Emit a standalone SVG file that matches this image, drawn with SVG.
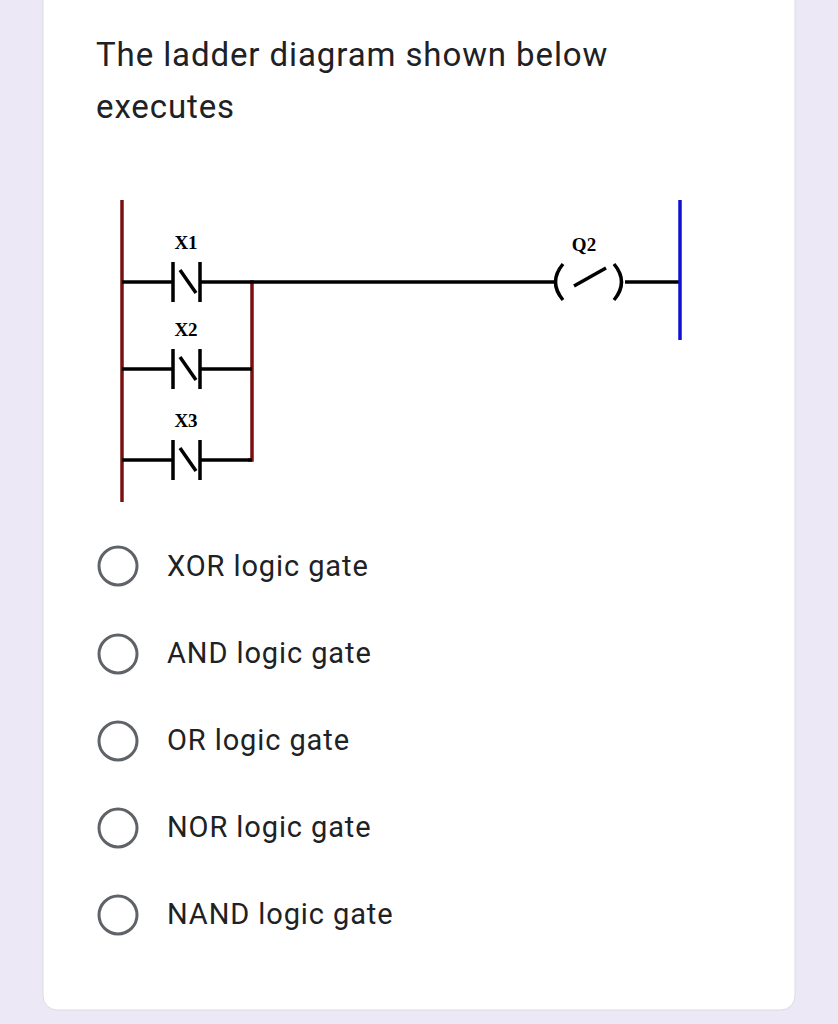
<svg xmlns="http://www.w3.org/2000/svg" width="838" height="1024" viewBox="0 0 838 1024">
<style>
.q{font-family:Roboto,"Liberation Sans",sans-serif;fill:#202124;font-size:33px;letter-spacing:0.9px}
.opt{font-family:Roboto,"Liberation Sans",sans-serif;font-size:29px;letter-spacing:0.9px;fill:#202124}
.lbl{font-family:"Liberation Serif",serif;font-weight:bold;font-size:19px;fill:#000}
.w{stroke:#000;stroke-width:3.5;fill:none}
.r{stroke:#7a1010;stroke-width:3.5;fill:none}
.rad{fill:none;stroke:#5f6368;stroke-width:3}
</style>
<rect width="838" height="1024" fill="#ece8f5"/>
<rect x="43" y="-20" width="752" height="1030" rx="14" fill="#fff" stroke="#dadce0"/>
<text class="q" x="96" y="66">The ladder diagram shown below</text>
<text class="q" x="96" y="118">executes</text>
<g id="connectors">
<line class="r" x1="122" y1="200" x2="122" y2="502"/>
<polyline class="r" points="250,282 252,282 252,460 248,460"/>
<line class="w" x1="122" y1="282" x2="173" y2="282"/>
<line class="w" x1="200" y1="282" x2="554" y2="282"/>
<line class="w" x1="122" y1="369" x2="173" y2="369"/>
<line class="w" x1="200" y1="369" x2="252" y2="369"/>
<line class="w" x1="122" y1="460" x2="173" y2="460"/>
<line class="w" x1="200" y1="460" x2="252" y2="460"/>
<line class="w" x1="625" y1="282" x2="680" y2="282"/>
<line x1="680" y1="200" x2="680" y2="340" stroke="#1010d0" stroke-width="3.5"/>
</g>
<g id="x1"><text class="lbl" x="186" y="249" text-anchor="middle">X1</text>
<path class="w" d="M173,262V302M200,262V302M180,270L196,293"/></g>
<g id="x2"><text class="lbl" x="186" y="336" text-anchor="middle">X2</text>
<path class="w" d="M173,349V389M200,349V389M180,357L196,380"/></g>
<g id="x3"><text class="lbl" x="186" y="427" text-anchor="middle">X3</text>
<path class="w" d="M173,440V480M200,440V480M180,448L196,471"/></g>
<g id="q2"><text class="lbl" x="584" y="251" text-anchor="middle">Q2</text>
<path class="w" stroke-width="4.5" d="M563,264Q548,282 563,300M614,264Q629,282 614,300"/><path class="w" d="M574,286L606,268"/></g>
<g id="options">
<circle class="rad" cx="118" cy="566" r="19"/><text class="opt" x="167" y="576">XOR logic gate</text>
<circle class="rad" cx="118" cy="654" r="19"/><text class="opt" x="167" y="663">AND logic gate</text>
<circle class="rad" cx="118" cy="741" r="19"/><text class="opt" x="167" y="750">OR logic gate</text>
<circle class="rad" cx="118" cy="828" r="19"/><text class="opt" x="167" y="837">NOR logic gate</text>
<circle class="rad" cx="118" cy="915" r="19"/><text class="opt" x="167" y="924">NAND logic gate</text>
</g>
</svg>
